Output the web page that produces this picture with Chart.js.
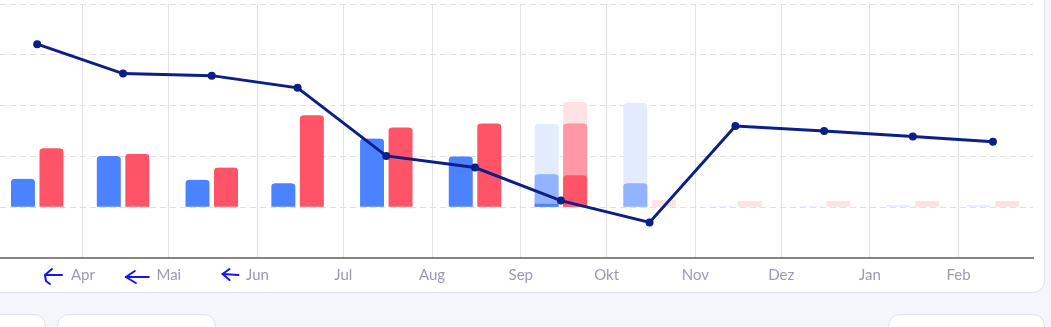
<!DOCTYPE html>
<html lang="de">
<head>
  <meta charset="UTF-8">
  <title>Monatsverlauf</title>
  <style>
    html, body { margin: 0; padding: 0; }
    body { width: 1051px; height: 327px; background: #f4f6fb; overflow: hidden; position: relative; font-family: Lato, sans-serif; }
    .card { position: absolute; box-sizing: border-box; background: #fff; border: 1px solid #dde2ec; border-radius: 12px; }
    #main { left: -20px; top: -20px; width: 1065px; height: 313px; }
    .small { top: 314px; height: 40px; }
    #c1 { left: -100px; width: 146px; }
    #c2 { left: 57px; width: 159px; }
    #c3 { left: 888px; width: 157px; }
    #chart { position: absolute; left: -4px; top: 0; }
  </style>
</head>
<body>
  <div class="card" id="main"></div>
  <div class="card small" id="c1"></div>
  <div class="card small" id="c2"></div>
  <div class="card small" id="c3"></div>
  <canvas id="chart" width="1041" height="292"></canvas>

  <script src="https://cdn.jsdelivr.net/npm/chart.js"></script>
  <script>
// x values are days counted from 1 Mar
const monthLabels = ['Apr', 'Mai', 'Jun', 'Jul', 'Aug', 'Sep', 'Okt', 'Nov', 'Dez', 'Jan', 'Feb']
const monthStarts = [31, 61, 92, 122, 153, 184, 214, 245, 275, 306, 337]

// one point per month (Mär .. Feb), placed mid-month
const pointDays = [15, 45, 76, 106, 137, 168, 198, 229, 259, 290, 321, 349]

const balance   = [32.1, 26.3, 25.9, 23.5, 10.1, 7.8, 1.3, -3.0, 16.0, 15.0, 13.9, 12.9]
const inActual  = [5.6, 10.1, 5.4, 4.7, 13.5, 10.0, 0.7, null, null, null, null, null]
const inPending = [null, null, null, null, null, null, 6.5, 4.7, null, null, null, null]
const inPlanned = [null, null, null, null, null, null, 16.4, 20.5, 0.2, 0.2, 0.4, 0.4]
const outActual  = [11.6, 10.5, 7.8, 18.1, 15.7, 16.5, 6.3, null, null, null, null, null]
const outPending = [null, null, null, null, null, null, 16.5, null, null, null, null, null]
const outPlanned = [null, null, null, null, null, null, 20.7, 1.4, 1.2, 1.2, 1.2, 1.2]

// hand drawn arrows next to some month labels
const arrowMonths = ['Apr', 'Mai', 'Jun']

function toXY(values) {
  return values.map(function (v, i) {
    return { x: pointDays[i], y: v };
  });
}

function barSet(label, values, color, stack, order) {
  return {
    type: 'bar',
    label: label,
    data: toXY(values),
    backgroundColor: color,
    borderColor: 'rgba(0,0,0,0)',
    borderWidth: { top: 0, right: 2.6, bottom: 0, left: 2.6 },
    borderRadius: 6.5,
    barThickness: 28.5,
    stack: stack,
    order: order,
  };
}

// arrow strokes, offsets from tick pixel / axis line
const arrowShapes = {
  Apr: [[[-21, 17], [-38, 17]], [[-31, 11], [-38, 17], [-37, 23], [-33, 26]]],
  Mai: [[[-20, 19], [-43, 19]], [[-34, 13], [-43, 19], [-33, 25]]],
  Jun: [[[-19, 17], [-35, 16]], [[-28, 11], [-35, 16], [-28, 22]]],
}

const arrowPlugin = {
  id: 'arrows',
  afterDraw(chart) {
    const ctx = chart.ctx
    const xs = chart.scales.x
    const base = chart.chartArea.bottom
    ctx.save()
    ctx.strokeStyle = '#1414ee'
    ctx.lineWidth = 2
    ctx.lineCap = 'round'
    ctx.lineJoin = 'round'
    arrowMonths.forEach(function (m) {
      const px = xs.getPixelForValue(monthStarts[monthLabels.indexOf(m)])
      arrowShapes[m].forEach(function (stroke) {
        ctx.beginPath()
        stroke.forEach(function (p, i) {
          if (i === 0) ctx.moveTo(px + p[0], base + p[1])
          else ctx.lineTo(px + p[0], base + p[1])
        })
        ctx.stroke()
      })
    })
    ctx.restore()
  }
}

new Chart(document.getElementById('chart'), {
  data: {
    datasets: [
      {
        type: 'line',
        label: 'Saldo',
        data: toXY(balance),
        borderColor: '#0b1f86',
        backgroundColor: '#0b1f86',
        borderWidth: 3,
        pointRadius: 4,
        pointBorderWidth: 0,
        tension: 0,
        order: 0,
      },
      barSet('Einnahmen', inActual, '#4b82ff', 'in', 1),
      barSet('Einnahmen offen', inPending, '#92b3ff', 'in', 2),
      barSet('Einnahmen geplant', inPlanned, '#e3ebff', 'in', 3),
      barSet('Ausgaben', outActual, '#ff5368', 'out', 1),
      barSet('Ausgaben offen', outPending, '#ff98a4', 'out', 2),
      barSet('Ausgaben geplant', outPlanned, '#ffe2e6', 'out', 3),
    ],
  },
  options: {
    responsive: false,
    animation: false,
    devicePixelRatio: 1,
    layout: { padding: { top: 3, left: 0, right: 0, bottom: 0 } },
    plugins: { legend: { display: false }, tooltip: { enabled: false } },
    scales: {
      x: {
        type: 'linear',
        min: 2,
        max: 363,
        offset: false,
        stacked: true,
        grid: { color: '#e3e3e6', lineWidth: 1, drawTicks: false, offset: false },
        border: { display: true, color: '#858585', width: 2 },
        ticks: {
          padding: 8,
          color: '#9a9ab6',
          font: { family: 'Lato', size: 15 },
          autoSkip: false,
          maxRotation: 0,
          callback: function (value, index) { return monthLabels[index]; },
        },
        afterBuildTicks: function (scale) {
          scale.ticks = monthStarts.map(function (v) { return { value: v }; });
        },
        afterFit: function (scale) { scale.height = 34; },
      },
      y: {
        min: -10,
        max: 40,
        stacked: false,
        ticks: { display: false, stepSize: 10 },
        grid: { color: '#e0e0e0', lineWidth: 1, drawTicks: false },
        border: { display: false, dash: [6, 4] },
        afterFit: function (scale) { scale.width = 0; },
      },
    },
  },
  plugins: [arrowPlugin],
});
  </script>
</body>
</html>
